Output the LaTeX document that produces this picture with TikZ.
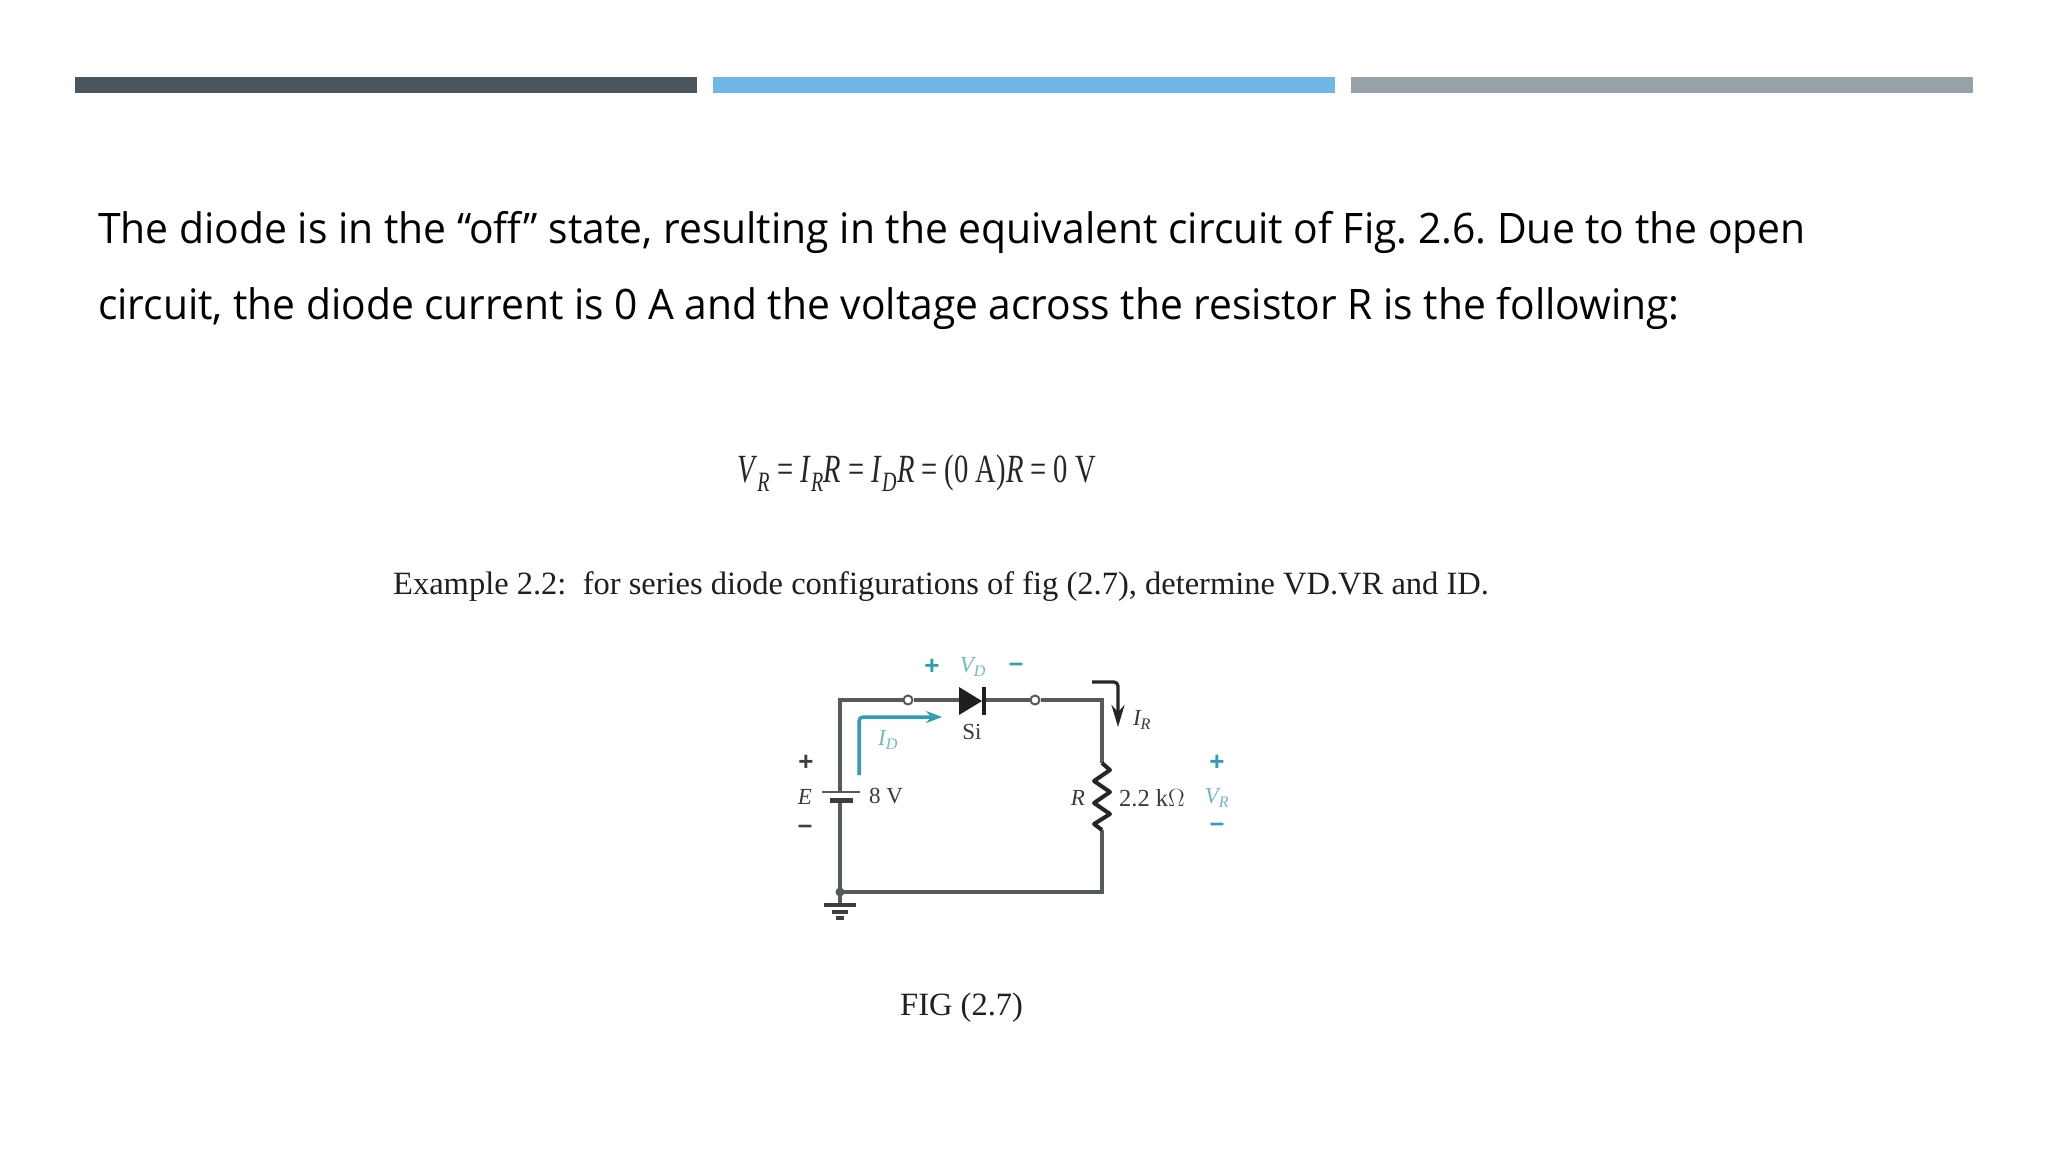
\documentclass[tikz,border=0pt]{standalone}
\usepackage{fontspec}
\setmainfont{Liberation Serif}
\newfontfamily\uifont{Open Sans}
\newfontfamily\signfont{Liberation Sans}
\usetikzlibrary{arrows.meta}
\definecolor{bardark}{HTML}{4A575E}
\definecolor{barblue}{HTML}{6FB7E7}
\definecolor{bargrey}{HTML}{97A2A6}
\definecolor{wirecol}{HTML}{555A5C}
\definecolor{cyancol}{HTML}{2F9DB3}
\definecolor{cyanlite}{HTML}{6FB9C6}
\definecolor{labelcol}{HTML}{3A3A3A}
\tikzset{
  x=1pt,y=-1pt,
  body/.style={anchor=base west,inner sep=0pt,font=\uifont\fontsize{42}{42}\selectfont,text=black},
  serif/.style={anchor=base west,inner sep=0pt,font=\fontsize{32.5}{32.5}\selectfont,text=black!88},
  clabel/.style={inner sep=0pt,font=\fontsize{23}{23}\selectfont,text=labelcol},
  ilabel/.style={inner sep=0pt,font=\itshape\fontsize{23}{23}\selectfont,text=labelcol},
  tlabel/.style={inner sep=0pt,font=\itshape\fontsize{23}{23}\selectfont,text=cyanlite},
  signk/.style={inner sep=0pt,font=\signfont\bfseries\fontsize{26}{26}\selectfont,text=wirecol!70!black},
  signc/.style={inner sep=0pt,font=\signfont\bfseries\fontsize{26}{26}\selectfont,text=cyancol},
  wire/.style={draw=wirecol,line width=3.2pt},
  term/.style={circle,draw=wirecol,fill=white,line width=2pt,minimum size=9pt,inner sep=0pt},
  barbox/.style={inner sep=0pt,minimum height=16pt,minimum width=622pt,anchor=north west},
}
\begin{document}
\frenchspacing
\begin{tikzpicture}
\useasboundingbox (0,0) rectangle (2048,1152);
\fill[white] (0,0) rectangle (2048,1152);
% top bars
\node[barbox,fill=bardark] (b1) at (75,77) {};
\node[barbox,fill=barblue] (b2) at (713,77) {};
\node[barbox,fill=bargrey] (b3) at (1351,77) {};
% text
\node[body] (t1) at (98,243) {\scalebox{0.972}[1]{The diode is in the “off” state, resulting in the equivalent circuit of Fig. 2.6. Due to the open}};
\node[body] (t2) at (98,319) {\scalebox{0.97}[1]{circuit, the diode current is 0 A and the voltage across the resistor R is the following:}};
\node[anchor=base west,inner sep=0pt,font=\fontsize{40}{40}\selectfont,text=black!85] (eq) at (737,482) {\scalebox{0.715}[1]{\textit{V}\textsubscript{\textit{R}} = \textit{I}\textsubscript{\textit{R}}\textit{R} = \textit{I}\textsubscript{\textit{D}}\textit{R} = (0 A)\textit{R} = 0 V}};
\node[serif] (ex) at (393,594) {Example 2.2:\ \ for series diode configurations of fig (2.7), determine VD.VR and ID.};
\node[serif] (fig) at (900,1015) {FIG (2.7)};
% circuit points
\coordinate (tl) at (840,700);
\coordinate (tr) at (1102,700);
\coordinate (br) at (1102,892);
\coordinate (bl) at (840,892);
\coordinate (rt) at (1102,763);
\coordinate (rb) at (1102,830);
\coordinate (pl) at (840,792);
\coordinate (ps) at (840,800);
\coordinate (gt) at (840,905);
\node[term] (n1) at (908,700) {};
\node[term] (n2) at (1035,700) {};
\coordinate (da) at (959,700);
\coordinate (dk) at (985,700);
% wires
\draw[wire] (pl) -- (tl) -- (n1);
\draw[wire] (n1) -- (da);
\draw[wire] (dk) -- (n2);
\draw[wire] (n2) -- (tr) -- (rt);
\draw[wire] (rb) -- (br) -- (bl) -- (ps);
\draw[wire] (bl) -- (gt);
\fill[wirecol] (bl) circle (4.5);
% diode
\fill[black!88] (959,687) -- (982,701) -- (959,715) -- cycle;
\draw[black!88,line width=4pt] (984,687) -- (984,715);
% battery
\draw[wirecol,line width=2.4pt] (822,792) -- (860,792);
\draw[wirecol!70!black,line width=5pt] (830,800) -- (853,800);
% ground
\draw[wirecol!70!black,line width=4pt] (824,905) -- (856,905);
\draw[wirecol!70!black,line width=4pt] (832,912) -- (848,912);
\draw[wirecol!70!black,line width=4pt] (836,918) -- (844,918);
% resistor
\draw[black!85,line width=4pt,line join=round] (rt) -- (1110,770) -- (1094,781) -- (1110,792) -- (1094,803) -- (1110,814) -- (1094,824) -- (rb);
% arrows
\coordinate (ia) at (859,775);
\coordinate (ib) at (859,717);
\coordinate (ic) at (942,717);
\draw[cyancol,line width=3.5pt,rounded corners=4pt,-{Stealth[length=16pt,width=12pt]}] (ia) -- (ib) -- (ic);
\coordinate (ra) at (1092,682);
\coordinate (rc) at (1118,682);
\coordinate (rd) at (1118,727);
\draw[black!85,line width=3.2pt,rounded corners=4pt,-{Stealth[length=22pt,width=13pt]}] (ra) -- (rc) -- (rd);
% labels
\node[signc] (vdp) at (932,667) {+};
\node[signc] (vdm) at (1016,667) {–};
\node[tlabel] (vd) at (973,667) {V\textsubscript{D}};
\node[tlabel] (id) at (888,740) {I\textsubscript{D}};
\node[clabel] (si) at (972,732) {Si};
\node[ilabel] (ir) at (1142,720) {I\textsubscript{R}};
\node[signk] (ep) at (806,763) {+};
\node[signk] (em) at (805,829) {–};
\node[ilabel] (e) at (805,797) {E};
\node[clabel] (v8) at (886,796) {8 V};
\node[ilabel] (r) at (1078,798) {R};
\node[clabel,font=\fontsize{24.5}{24.5}\selectfont] (rv) at (1152,798) {2.2 k$\Omega$};
\node[tlabel] (vr) at (1217,798) {V\textsubscript{R}};
\node[signc] (vrp) at (1217,763) {+};
\node[signc] (vrm) at (1217,827) {–};
\end{tikzpicture}
\end{document}
